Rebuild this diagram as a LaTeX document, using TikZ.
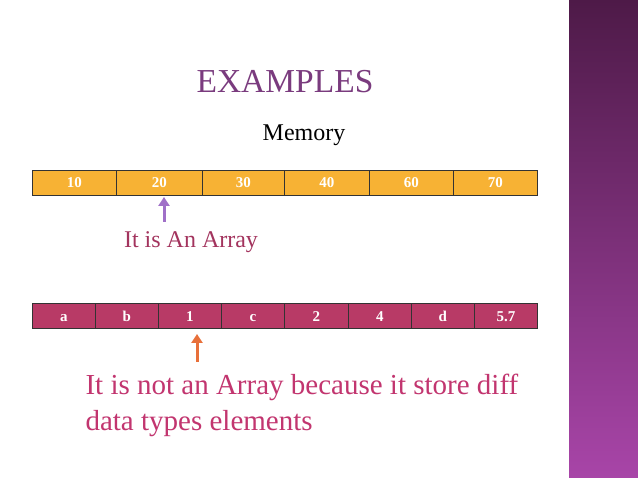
\documentclass[tikz,border=0pt]{standalone}
\usepackage{fontspec}
\usetikzlibrary{arrows.meta}
\setmainfont{Liberation Serif}
\definecolor{gold}{HTML}{F7B234}
\definecolor{wine}{HTML}{B83A66}
\definecolor{ttl}{HTML}{7A3B7E}
\definecolor{lbl}{HTML}{A3345E}
\definecolor{pink}{HTML}{C2356F}
\definecolor{bartop}{HTML}{4E1A48}
\definecolor{barbot}{HTML}{A845A8}
\definecolor{arrA}{HTML}{A070C8}
\definecolor{arrB}{HTML}{E8703A}
\begin{document}
\begin{tikzpicture}[x=1pt,y=-1pt,
  cell/.style={draw=black!80,line width=0.8pt,minimum height=25pt,inner sep=0pt,text=white,text height=10.5pt,text depth=0pt,font=\fontsize{15}{15}\selectfont\bfseries},
  arr/.style={line width=3pt,-{Triangle[length=9pt,width=11pt]}}]
\useasboundingbox (0,0) rectangle (638,478);
\fill[white] (0,0) rectangle (638,478);
\shade[top color=bartop, bottom color=barbot] (569,0) rectangle (638,478);
\node[text=ttl,font=\fontsize{33.5}{34}\selectfont] (title) at (285,82) {EXAMPLES};
\node[font=\fontsize{24}{24}\selectfont] (mem) at (304,135) {Memory};
\foreach \a/\b/\t [count=\i] in {32/116/10,116/202/20,202/284/30,284/369/40,369/453/60,453/537/70}
  \node[cell,fill=gold,minimum width={\b-\a},anchor=west] (t\i) at (\a,182.5) {\t};
\foreach \a/\b/\t [count=\i] in {32/95/a,95/158/b,158/221/1,221/284/c,284/348/2,348/411/4,411/474/d,474/537/5.7}
  \node[cell,fill=wine,minimum width={\b-\a},anchor=west] (b\i) at (\a,316) {\t};
\coordinate (p1) at (164,222);
\coordinate (p2) at (197,362);
\draw[arr,draw=arrA] (p1) -- (164,197);
\draw[arr,draw=arrB] (p2) -- (197,334);
\node[text=lbl,font=\fontsize{24}{24}\selectfont] (l1) at (191,242) {It is An Array};
\node[text=pink,font=\fontsize{29}{36}\selectfont,align=left,anchor=north west] (l2) at (82,371) {It is not an Array because it store diff\\data types elements};
\end{tikzpicture}
\end{document}
